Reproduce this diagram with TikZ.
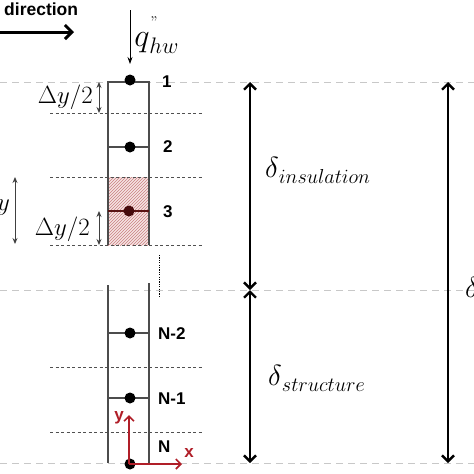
\documentclass[tikz,border=0pt]{standalone}
\usepackage{fontspec}
\setsansfont{Liberation Sans}
\usetikzlibrary{arrows.meta,patterns}
\definecolor{axred}{HTML}{B01E28}
\definecolor{hatchred}{HTML}{C88080}
\definecolor{hatchfill}{HTML}{F6E4E4}
\definecolor{lightdash}{HTML}{C8C8C8}
\definecolor{darkdash}{HTML}{505050}
\newcommand{\fsz}[1]{\fontsize{#1}{#1}\selectfont}
\tikzset{
  griddash/.style={darkdash, line width=0.9pt, dash pattern=on 3pt off 2.5pt},
  borderdash/.style={lightdash, line width=0.9pt, dash pattern=on 7pt off 5pt},
  wall/.style={black!70, line width=1.1pt},
  nodedot/.style={circle, fill=black, inner sep=0pt, minimum size=11pt},
  numlabel/.style={font=\sffamily\bfseries\fsz{17}, inner sep=0pt},
  dimarrow/.style={black!75, line width=0.9pt, {Stealth[length=6pt,width=5pt]}-{Stealth[length=6pt,width=5pt]}},
  bigarrow/.style={black, line width=2.4pt, {Straight Barb[length=6pt,width=12pt]}-{Straight Barb[length=6pt,width=12pt]}},
  mathlabel/.style={font=\fsz{24.88}, inner sep=0pt},
  biglabel/.style={inner sep=0pt, scale=1.17},
  axis/.style={axred, line width=1.6pt, -{Straight Barb[length=5pt,width=10pt]}}
}
\newcommand{\dlab}[2]{{\fsz{24.88}$#1$}\raisebox{-5pt}{\fsz{17.28}$#2$}}
\begin{document}
\begin{tikzpicture}[x=1pt,y=-1pt]
\path[use as bounding box] (0,0) rectangle (474,474);
\clip (0,0) rectangle (474,474);
% heat flow direction
\node[anchor=west, font=\sffamily\bfseries\fsz{17.5}, inner sep=0pt] (dirtxt) at (4,9) {direction};
\coordinate (da) at (-5,32);
\coordinate (db) at (74,32);
\draw[black, line width=3pt, -{Straight Barb[length=7pt,width=14pt]}] (da) -- (db);
% incoming flux
\coordinate (qa) at (130,10);
\coordinate (qb) at (130,64);
\draw[black, line width=0.8pt, -{Stealth[length=7pt,width=5pt]}] (qa) -- (qb);
\node[inner sep=0pt, scale=1.3, anchor=west] (qlab) at (134,35) {\dlab{q}{hw}\llap{\raisebox{15pt}{\fsz{12}''\hspace{16pt}}}};
% border lines
\coordinate (bt0) at (0,82); \coordinate (bt1) at (474,82);
\coordinate (bm0) at (0,290); \coordinate (bm1) at (474,290);
\coordinate (bb0) at (0,463); \coordinate (bb1) at (474,463);
\draw[borderdash] (bt0) -- (bt1);
\draw[borderdash] (bm0) -- (bm1);
\draw[borderdash] (bb0) -- (bb1);
% hatched cell 3
\fill[hatchfill] (108,177) rectangle (149,245);
\fill[pattern=north east lines, pattern color=hatchred] (108,177) rectangle (149,245);
% grid dashed lines
\foreach \yy in {113,177,245,367,432}{
  \draw[griddash] (50,\yy) -- (203,\yy);
}
% column walls
\draw[wall] (108,245) -- (108,82) -- (149,82) -- (149,245);
\draw[wall] (108,285) -- (108,463);
\draw[wall] (149,283) -- (149,463);
\draw[black, line width=1pt, dash pattern=on 1.2pt off 1.2pt] (159,255) -- (159,296);
% node rows
\draw[wall] (108,147) -- (149,147);
\draw[line width=1.1pt, color={rgb,255:red,90;green,20;blue,20}] (108,211) -- (149,211);
\draw[wall] (108,333) -- (149,333);
\draw[wall] (108,398) -- (149,398);
\node[nodedot] (n1) at (130,80) {};
\node[nodedot] (n2) at (130,147) {};
\node[nodedot, fill={rgb,255:red,70;green,10;blue,12}] (n3) at (129,211) {};
\node[nodedot] (nm2) at (130,333) {};
\node[nodedot] (nm1) at (130,398) {};
\node[nodedot] (nn) at (130,464) {};
\node[numlabel, anchor=west] (l1) at (162,82) {1};
\node[numlabel, anchor=west] (l2) at (163,147) {2};
\node[numlabel, anchor=west] (l3) at (163,212) {3};
\node[numlabel, anchor=west] (lm2) at (158,334) {N-2};
\node[numlabel, anchor=west] (lm1) at (158,399) {N-1};
\node[numlabel, anchor=west] (ln) at (158,447) {N};
% axes
\coordinate (ax0) at (129,464);
\coordinate (axy) at (129,415);
\coordinate (axx) at (182,464);
\draw[axis] (ax0) -- (axy);
\draw[axis] (ax0) -- (axx);
\node[font=\sffamily\bfseries\fsz{17}, text=axred, inner sep=0pt] (ylab) at (119,418) {y};
\node[font=\sffamily\bfseries\fsz{17}, text=axred, inner sep=0pt] (xlab) at (189,453) {x};
% small dimension arrows
\coordinate (d1a) at (99,82); \coordinate (d1b) at (99,113);
\draw[dimarrow] (d1a) -- (d1b);
\node[mathlabel, anchor=east] (d1lab) at (93,97) {$\Delta y/2$};
\coordinate (d2a) at (15,177); \coordinate (d2b) at (15,244);
\draw[dimarrow] (d2a) -- (d2b);
\node[mathlabel, anchor=east] (d2lab) at (10,204) {$\Delta y$};
\coordinate (d3a) at (99,211); \coordinate (d3b) at (99,245);
\draw[dimarrow] (d3a) -- (d3b);
\node[mathlabel, anchor=east] (d3lab) at (90,229) {$\Delta y/2$};
% big dimension arrows
\coordinate (ia) at (250,82); \coordinate (ib) at (250,290); \coordinate (ic) at (250,463);
\draw[bigarrow] (ia) -- (ib);
\draw[bigarrow] (ib) -- (ic);
\node[biglabel, anchor=west] (inslab) at (265,170) {\dlab{\delta}{insulation}};
\node[biglabel, anchor=west] (strlab) at (268,378) {\dlab{\delta}{structure}};
\coordinate (ta) at (448,82); \coordinate (tb) at (448,463);
\draw[bigarrow] (ta) -- (tb);
\node[biglabel, anchor=west] (totlab) at (465,290) {\dlab{\delta}{wall}};
\end{tikzpicture}
\end{document}
